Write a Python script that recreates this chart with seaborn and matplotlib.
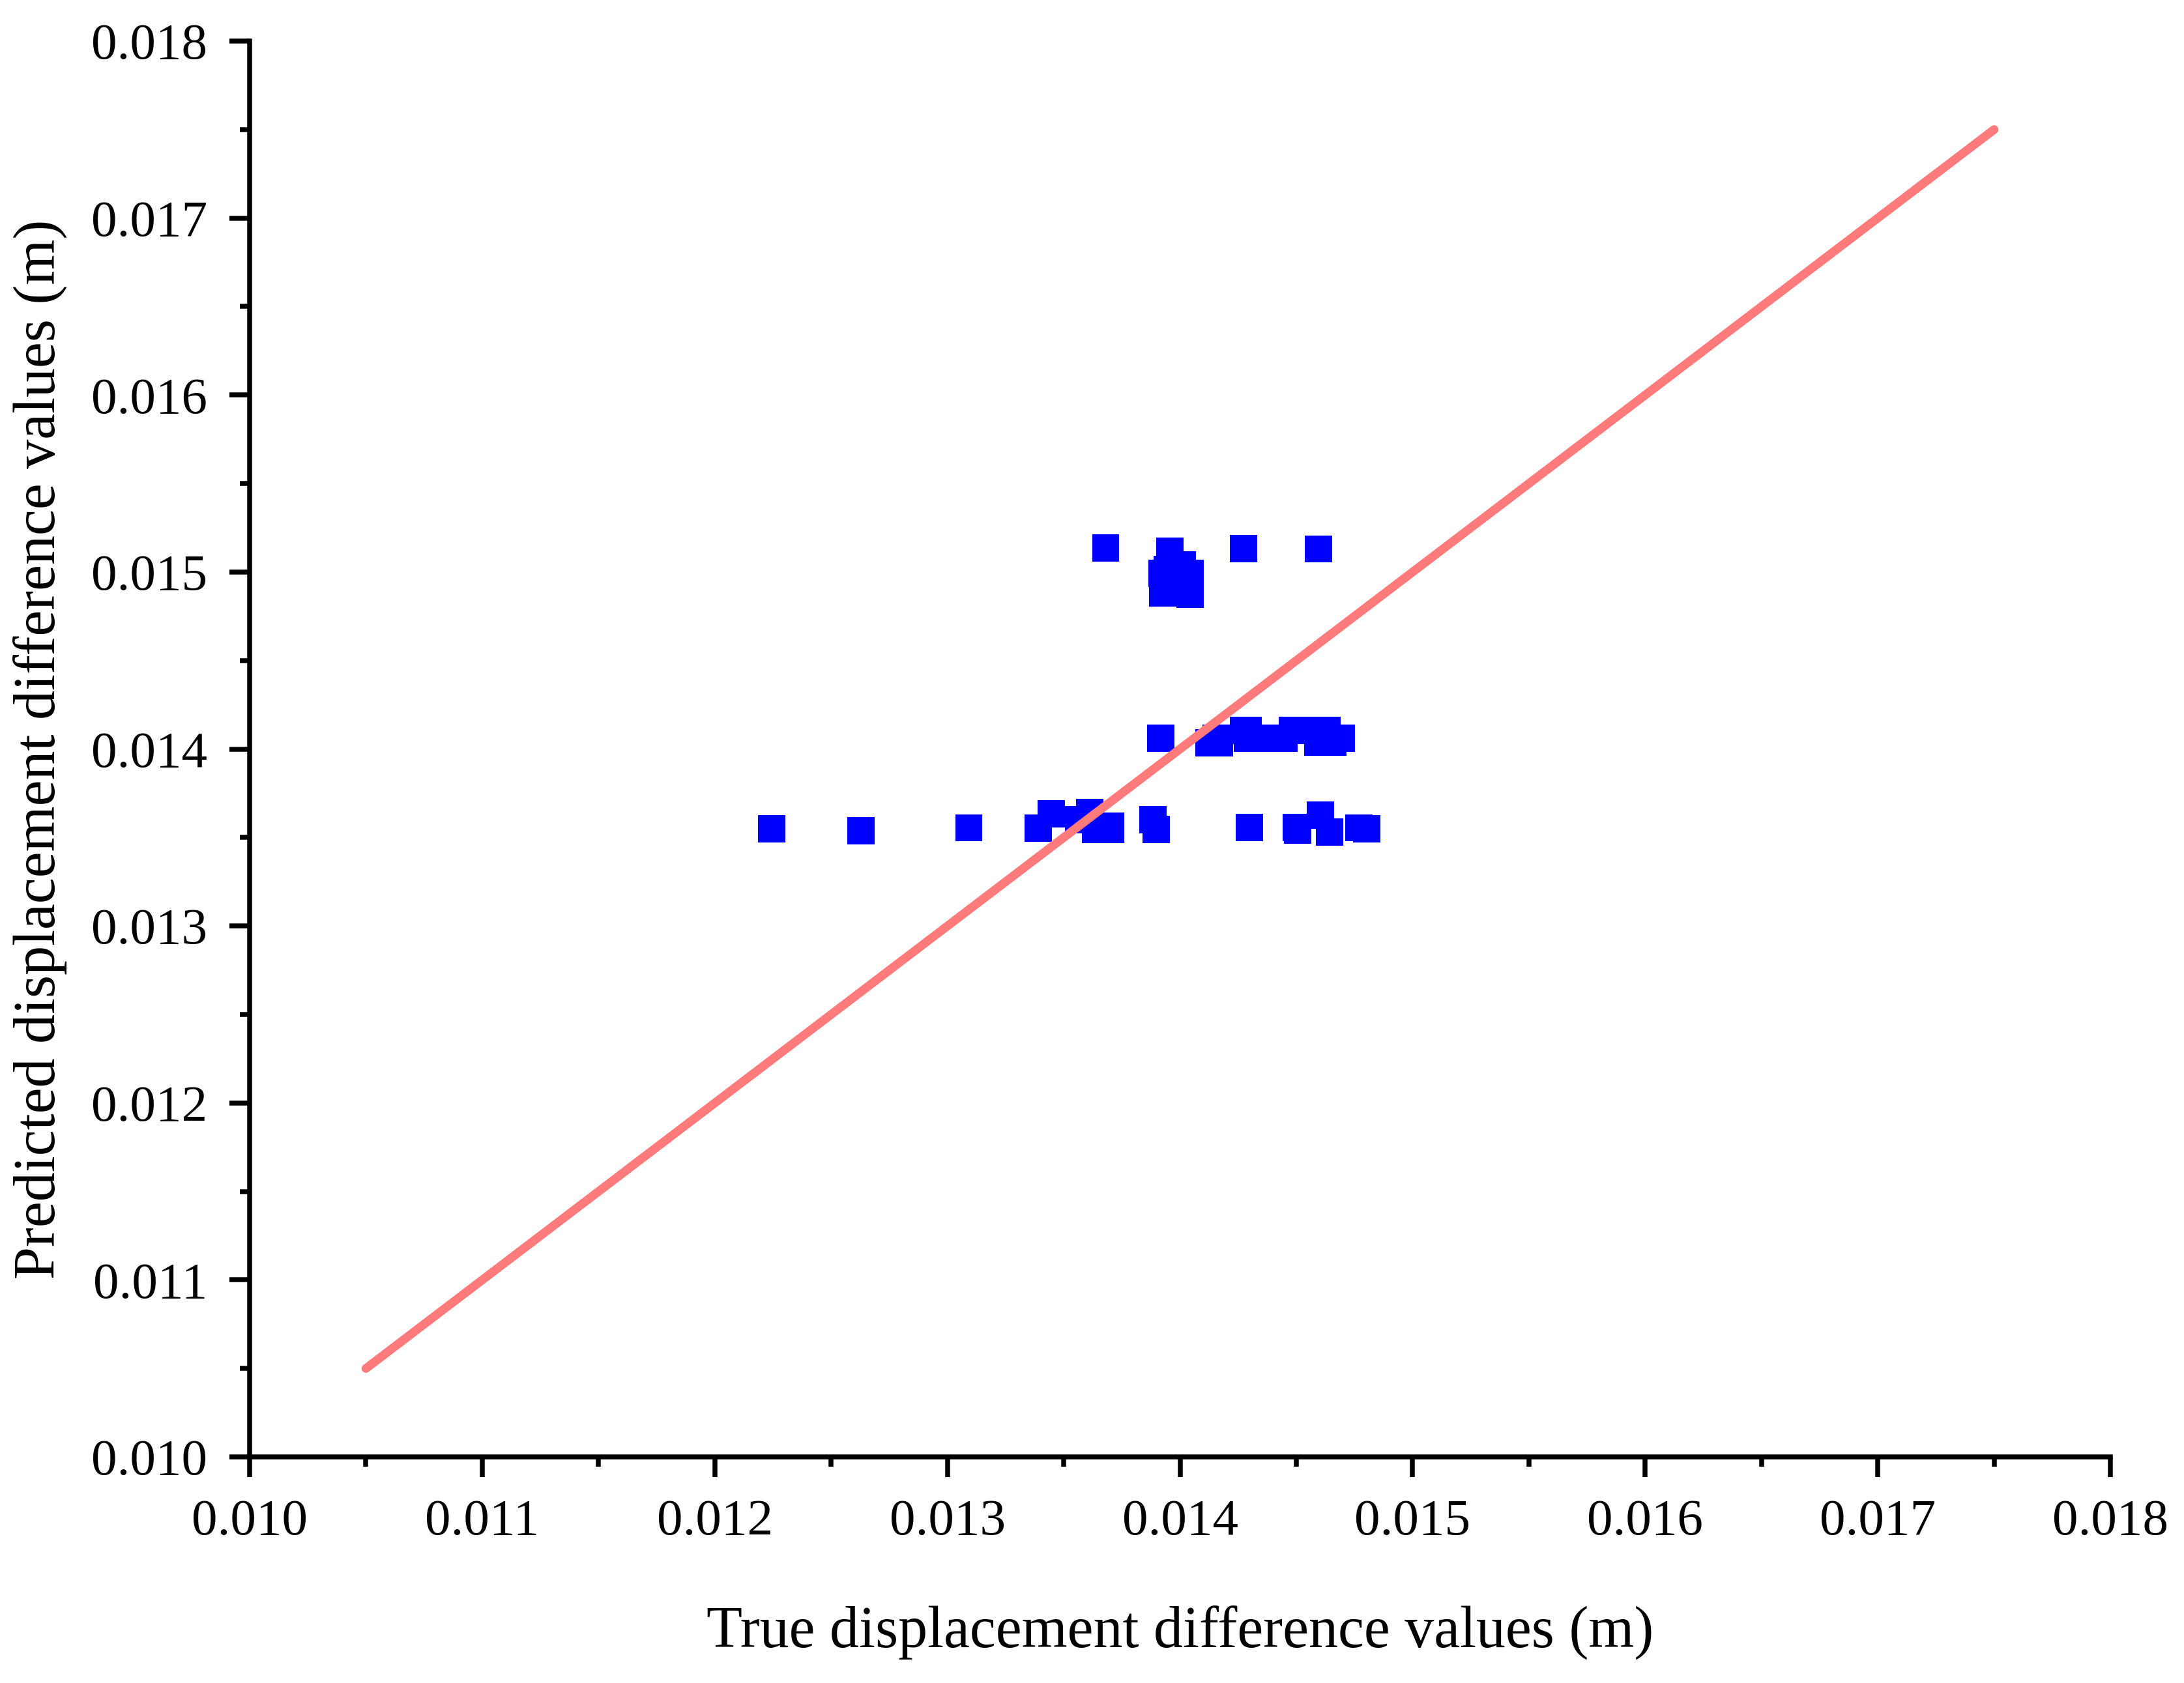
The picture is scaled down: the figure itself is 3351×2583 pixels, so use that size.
import numpy as np
import pandas as pd
import matplotlib
matplotlib.use('Agg')
import matplotlib.pyplot as plt
import seaborn as sns
from matplotlib.ticker import MultipleLocator, FormatStrFormatter

# True vs predicted displacement difference values (m)
true_top = [0.013680, 0.013957, 0.014273, 0.014596,
            0.014010, 0.013923, 0.014045, 0.013925, 0.014043, 0.013945]
pred_top = [0.015136, 0.015118, 0.015132, 0.015130,
            0.015040, 0.014993, 0.014993, 0.014883, 0.014873, 0.015015]

true_mid = [0.013918, 0.014124, 0.014171, 0.014155, 0.014273, 0.014293, 0.014484,
            0.014545, 0.014631, 0.014694, 0.014592, 0.014658, 0.014289, 0.014368, 0.014446]
pred_mid = [0.014060, 0.014036, 0.014036, 0.014060, 0.014106, 0.014106, 0.014106,
            0.014106, 0.014106, 0.014060, 0.014038, 0.014038, 0.014060, 0.014060, 0.014060]

true_low = [0.012245, 0.012628, 0.013092, 0.013391, 0.013446, 0.013611, 0.013564,
            0.013636, 0.013701, 0.013701, 0.013884, 0.013898, 0.014299, 0.014499,
            0.014505, 0.014604, 0.014643, 0.014769, 0.014802]
pred_low = [0.013549, 0.013539, 0.013555, 0.013553, 0.013634, 0.013641, 0.013601,
            0.013546, 0.013546, 0.013564, 0.013601, 0.013546, 0.013557, 0.013557,
            0.013542, 0.013627, 0.013532, 0.013555, 0.013549]

# reference line y = x
line_x = [0.0105, 0.0175]
line_y = [0.0105, 0.0175]

df = pd.DataFrame({'true': true_top + true_mid + true_low,
                   'pred': pred_top + pred_mid + pred_low})

sns.set_style('ticks', {'axes.edgecolor': 'black', 'xtick.color': 'black',
                        'ytick.color': 'black', 'text.color': 'black',
                        'axes.labelcolor': 'black'})
plt.rcParams['font.family'] = ['Liberation Serif', 'DejaVu Serif']

fig = plt.figure(figsize=(3351 / 300, 2583 / 300), dpi=300)
ax = fig.add_axes([0.1143, 0.1343, 0.852, 0.8413])

sns.scatterplot(data=df, x='true', y='pred', marker='s', s=100, color='#0000FF',
                edgecolor='none', linewidth=0, ax=ax, zorder=2)
sns.lineplot(x=line_x, y=line_y, color='#FF7B7B', linewidth=3.2, ax=ax, zorder=3)

ax.set_xlim(0.010, 0.018)
ax.set_ylim(0.010, 0.018)
ax.xaxis.set_major_locator(MultipleLocator(0.001))
ax.xaxis.set_minor_locator(MultipleLocator(0.0005))
ax.yaxis.set_major_locator(MultipleLocator(0.001))
ax.yaxis.set_minor_locator(MultipleLocator(0.0005))
ax.xaxis.set_major_formatter(FormatStrFormatter('%.3f'))
ax.yaxis.set_major_formatter(FormatStrFormatter('%.3f'))

for side in ['top', 'right']:
    ax.spines[side].set_visible(False)
for side in ['left', 'bottom']:
    ax.spines[side].set_linewidth(1.8)
    ax.spines[side].set_color('black')

ax.tick_params(which='major', direction='out', length=7.5, width=1.8, labelsize=19,
               pad=8, colors='black')
ax.tick_params(which='minor', direction='out', length=3.5, width=1.8, colors='black')

ax.set_xlabel('True displacement difference values (m)', fontsize=21.6, labelpad=22,
              color='black')
ax.set_ylabel('Predicted displacement difference values (m)', fontsize=21.6, labelpad=9,
              color='black')

plt.savefig('out.png', dpi=300)
